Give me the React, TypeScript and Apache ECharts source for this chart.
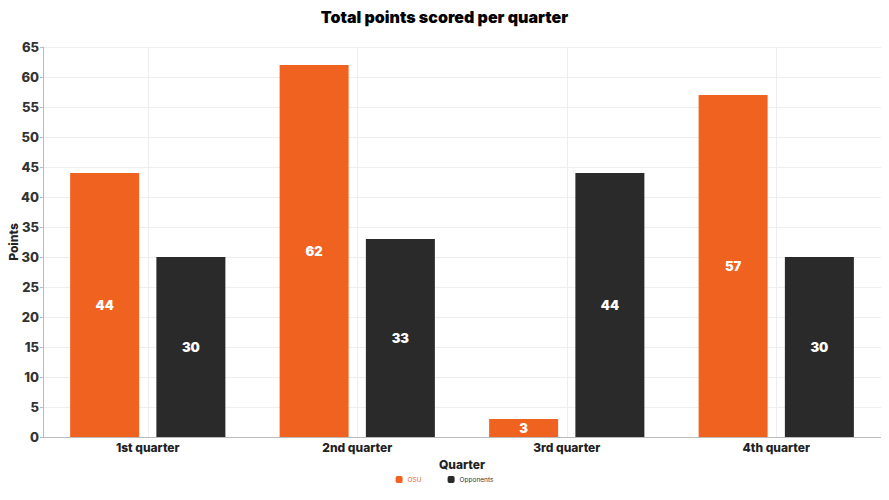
import React, { useEffect, useRef } from "react";
import * as echarts from "echarts";

const categories = ["1st quarter", "2nd quarter", "3rd quarter", "4th quarter"];
const osuPoints = [44, 62, 3, 57];
const opponentPoints = [30, 33, 44, 30];
const seriesNames = ["OSU", "Opponents"];
const colors = ["#F0621F", "#2A2A2A"];

export default function App() {
  const ref = useRef<HTMLDivElement>(null);
  useEffect(() => {
    if (!ref.current) return;
    const chart = echarts.init(ref.current, null, { renderer: "svg" });
    const font = "Inter";
    const labelStyle = {
      show: true,
      position: "inside",
      color: "#ffffff",
      fontFamily: font,
      fontWeight: 900,
      fontSize: 13,
    };
    chart.setOption({
      animation: false,
      backgroundColor: "#ffffff",
      title: {
        text: "Total points scored per quarter",
        left: "center",
        top: 4,
        textStyle: { fontFamily: font, fontWeight: 900, fontSize: 16, color: "#000" },
      },
      graphic: [
        {
          type: "text",
          x: 13,
          y: 242,
          rotation: Math.PI / 2,
          style: {
            text: "Points",
            fontFamily: font,
            fontWeight: 800,
            fontSize: 12,
            fill: "#222",
            textAlign: "center",
            textVerticalAlign: "middle",
          },
        },
      ],
      grid: {
        left: 43,
        right: 8,
        top: 47,
        bottom: 63,
        containLabel: false,
        outerBoundsMode: "none",
      },
      legend: {
        bottom: 12,
        left: "center",
        itemWidth: 7,
        itemHeight: 7,
        itemGap: 26,
        icon: "roundRect",
        textStyle: { fontFamily: font, fontSize: 6.5, color: "#333" },
        data: [
          { name: seriesNames[0], textStyle: { color: colors[0] } },
          { name: seriesNames[1], textStyle: { color: "#333" } },
        ],
      },
      xAxis: {
        type: "category",
        data: categories,
        name: "Quarter",
        nameLocation: "middle",
        nameGap: 21,
        nameTextStyle: { fontFamily: font, fontWeight: 800, fontSize: 12, color: "#222" },
        axisLine: { lineStyle: { color: "#bbb" } },
        axisTick: { alignWithLabel: true, length: 3, lineStyle: { color: "#bbb" } },
        axisLabel: { fontFamily: font, fontWeight: 800, fontSize: 12, color: "#222", margin: 4 },
        splitLine: { show: false },
      },
      yAxis: {
        type: "value",
        min: 0,
        max: 65,
        interval: 5,
        axisLine: { show: true, lineStyle: { color: "#bbb" } },
        axisTick: { show: true, length: 3, lineStyle: { color: "#bbb" } },
        axisLabel: { fontFamily: font, fontWeight: 800, fontSize: 13, color: "#333", margin: 4 },
        splitLine: { lineStyle: { color: "#eeeeee" } },
      },
      series: [
        {
          name: "grid-centers",
          type: "line",
          data: [],
          silent: true,
          showSymbol: false,
          z: 1,
          markLine: {
            silent: true,
            symbol: "none",
            label: { show: false },
            lineStyle: { color: "#eeeeee", type: "solid", width: 1 },
            data: categories.map((c) => ({ xAxis: c })),
          },
        },
        {
          name: seriesNames[0],
          type: "bar",
          data: osuPoints,
          barWidth: 69,
          barGap: "25%",
          itemStyle: { color: colors[0] },
          label: labelStyle,
        },
        {
          name: seriesNames[1],
          type: "bar",
          data: opponentPoints,
          barWidth: 69,
          barGap: "25%",
          itemStyle: { color: colors[1] },
          label: labelStyle,
        },
      ],
    });
    return () => chart.dispose();
  }, []);
  return <div ref={ref} style={{ width: 889, height: 500, margin: -8 }} />;
}
